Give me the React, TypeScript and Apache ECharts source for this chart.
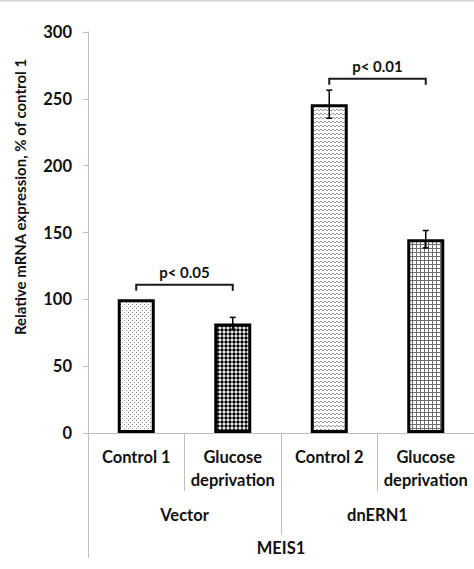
import React, { useEffect, useRef } from "react";
import * as echarts from "echarts";

const categories = ["Control 1", "Glucose\ndeprivation", "Control 2", "Glucose\ndeprivation"];
const groupLabels = ["Vector", "dnERN1"];
const geneLabels = ["MEIS1"];
const meanValues = [100, 82, 246, 145];
const errorValues = [0, 4.5, 10.5, 6.5];
const bracketFrom = [0, 2];
const bracketTo = [1, 3];
const bracketLevel = [111, 265];
const bracketLabels = ["p< 0.05", "p< 0.01"];
const yMin = 0;
const yMax = 300;
const yStep = 50;
const yTitle = "Relative mRNA expression, % of control 1";

const FONT = "Lato, 'Liberation Sans', sans-serif";
const TEXT = "#111";
const AXIS = "#bfbfbf";

function makeTile(w: number, h: number, draw: (ctx: CanvasRenderingContext2D) => void) {
  const c = document.createElement("canvas");
  c.width = w;
  c.height = h;
  const ctx = c.getContext("2d")!;
  ctx.fillStyle = "#fff";
  ctx.fillRect(0, 0, w, h);
  draw(ctx);
  return c;
}

function makePatterns() {
  const lightDots = makeTile(4, 4, (ctx) => {
    ctx.fillStyle = "#8a8a8a";
    ctx.fillRect(0, 0, 1, 1);
    ctx.fillRect(2, 2, 1, 1);
  });
  const denseDots = makeTile(4, 4, (ctx) => {
    ctx.fillStyle = "#000";
    ctx.beginPath();
    ctx.arc(2, 2, 1.7, 0, Math.PI * 2);
    ctx.fill();
  });
  const wave = makeTile(4, 4, (ctx) => {
    ctx.strokeStyle = "#9a9a9a";
    ctx.lineWidth = 1;
    ctx.beginPath();
    ctx.moveTo(0, 2);
    ctx.lineTo(1, 1);
    ctx.lineTo(2, 2);
    ctx.lineTo(3, 3);
    ctx.lineTo(4, 2);
    ctx.stroke();
  });
  const grid = makeTile(4, 4, (ctx) => {
    ctx.fillStyle = "#6e6e6e";
    ctx.fillRect(0, 0, 4, 1);
    ctx.fillRect(0, 0, 1, 4);
  });
  return [lightDots, denseDots, wave, grid];
}

export default function App() {
  const ref = useRef<HTMLDivElement>(null);
  useEffect(() => {
    if (!ref.current) return;
    const chart = echarts.init(ref.current, undefined, { renderer: "svg" });
    const patterns = makePatterns();
    const option: any = {
      animation: false,
      backgroundColor: "#fff",
      grid: { left: 88, right: 0, top: 32, bottom: 136, containLabel: false },
      graphic: [
        { type: "rect", left: 0, top: 0, shape: { width: 474, height: 1.5 }, style: { fill: "#d4d4d4" } },
        {
          type: "text",
          x: 20,
          y: 197,
          rotation: Math.PI / 2,
          style: {
            text: yTitle,
            fill: TEXT,
            fontFamily: FONT,
            fontWeight: "bold",
            fontSize: 15,
            align: "center",
            verticalAlign: "middle",
          },
        },
      ],
      xAxis: [
        {
          type: "category",
          data: categories,
          position: "bottom",
          axisLine: { show: true, lineStyle: { color: AXIS, width: 1 } },
          axisTick: { show: true, length: 58, interval: 0, lineStyle: { color: AXIS } },
          axisLabel: {
            interval: 0,
            margin: 12,
            color: TEXT,
            fontFamily: FONT,
            fontWeight: "bold",
            fontSize: 16.5,
            lineHeight: 23,
          },
        },
        {
          type: "category",
          data: groupLabels,
          position: "bottom",
          offset: 58,
          axisLine: { show: false },
          axisTick: { show: true, length: 44, interval: 0, lineStyle: { color: AXIS } },
          axisLabel: {
            interval: 0,
            margin: 14,
            color: TEXT,
            fontFamily: FONT,
            fontWeight: "bold",
            fontSize: 16.5,
            lineHeight: 20,
          },
        },
        {
          type: "category",
          data: geneLabels,
          position: "bottom",
          offset: 102,
          axisLine: { show: false },
          axisTick: { show: true, length: 23, interval: 0, lineStyle: { color: AXIS } },
          axisLabel: {
            interval: 0,
            margin: 3,
            color: TEXT,
            fontFamily: FONT,
            fontWeight: "bold",
            fontSize: 16.5,
            lineHeight: 20,
          },
        },
      ],
      yAxis: {
        type: "value",
        min: yMin,
        max: yMax,
        interval: yStep,
        axisLine: { show: true, lineStyle: { color: AXIS, width: 1 } },
        axisTick: { show: true, length: 5, lineStyle: { color: AXIS } },
        splitLine: { show: false },
        axisLabel: {
          margin: 16,
          color: TEXT,
          fontFamily: FONT,
          fontWeight: "bold",
          fontSize: 16.5,
        },
      },
      series: [
        {
          type: "bar",
          xAxisIndex: 0,
          barWidth: 37,
          data: meanValues.map((v, i) => ({
            value: v,
            itemStyle: {
              color: { image: patterns[i], repeat: "repeat" },
              borderColor: "#000",
              borderWidth: 3,
            },
          })),
          z: 2,
        },
        {
          type: "custom",
          xAxisIndex: 0,
          z: 10,
          encode: { x: 0, y: [1, 2] },
          data: meanValues.map((v, i) => [i, v - errorValues[i], v + errorValues[i]]),
          renderItem: (params: any, api: any) => {
            const x = api.value(0);
            const loV = api.value(1);
            const hiV = api.value(2);
            if (hiV - loV <= 0) return { type: "group", children: [] };
            const lo = api.coord([x, loV]);
            const hi = api.coord([x, hiV]);
            const hw = 3;
            const style = { stroke: "#000", lineWidth: 1.5 };
            return {
              type: "group",
              children: [
                { type: "line", shape: { x1: lo[0], y1: lo[1], x2: hi[0], y2: hi[1] }, style },
                { type: "line", shape: { x1: lo[0] - hw, y1: lo[1], x2: lo[0] + hw, y2: lo[1] }, style },
                { type: "line", shape: { x1: hi[0] - hw, y1: hi[1], x2: hi[0] + hw, y2: hi[1] }, style },
              ],
            };
          },
        },
        {
          type: "custom",
          xAxisIndex: 0,
          z: 10,
          encode: { x: [0, 1], y: 2 },
          data: bracketFrom.map((f, i) => [f, bracketTo[i], bracketLevel[i]]),
          renderItem: (params: any, api: any) => {
            const a = api.coord([api.value(0), api.value(2)]);
            const b = api.coord([api.value(1), api.value(2)]);
            const drop = 6;
            return {
              type: "group",
              children: [
                {
                  type: "polyline",
                  shape: {
                    points: [
                      [a[0], a[1] + drop],
                      [a[0], a[1]],
                      [b[0], b[1]],
                      [b[0], b[1] + drop],
                    ],
                  },
                  style: { stroke: "#1a1a1a", lineWidth: 2, fill: "none" },
                },
                {
                  type: "text",
                  x: (a[0] + b[0]) / 2,
                  y: a[1] - 13,
                  style: {
                    text: bracketLabels[params.dataIndex],
                    fill: TEXT,
                    fontFamily: FONT,
                    fontWeight: "bold",
                    fontSize: 15,
                    align: "center",
                    verticalAlign: "middle",
                  },
                },
              ],
            };
          },
        },
      ],
    };
    chart.setOption(option);
    return () => chart.dispose();
  }, []);
  return (
    <div
      ref={ref}
      style={{ position: "absolute", left: 0, top: 0, width: 474, height: 569 }}
    />
  );
}
